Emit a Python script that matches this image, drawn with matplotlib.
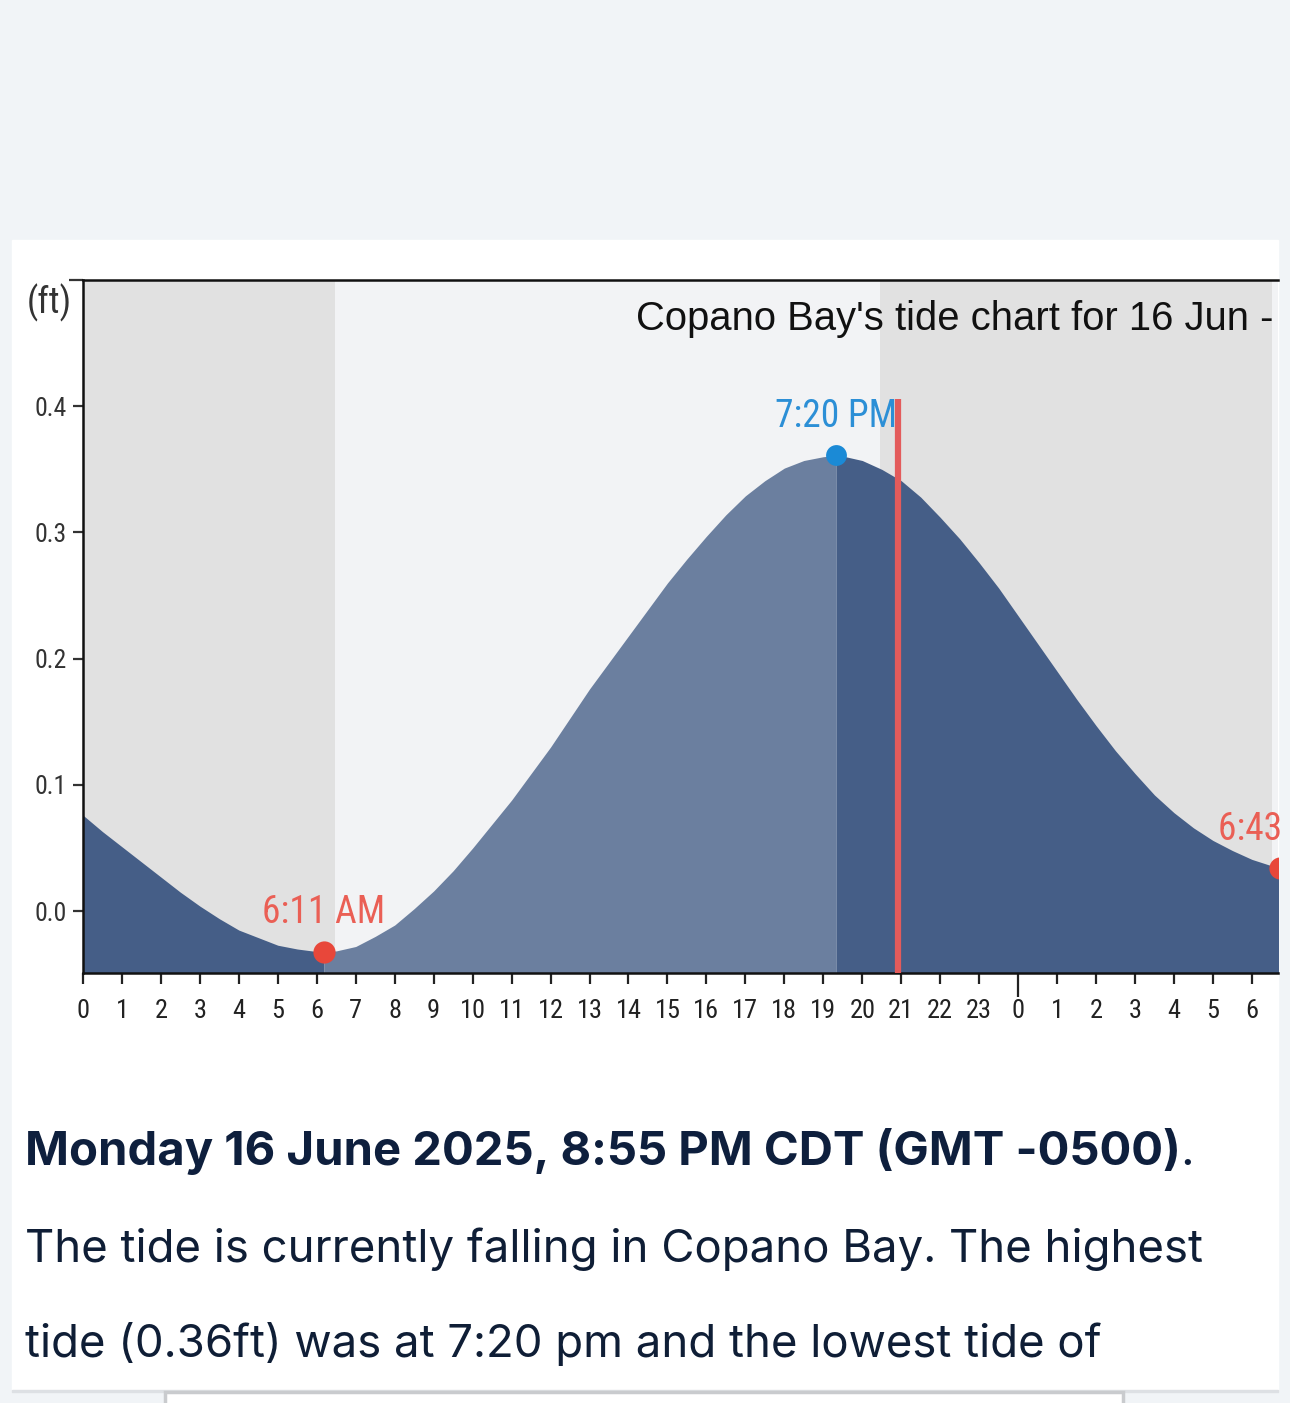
import matplotlib.pyplot as plt
from matplotlib import font_manager
from matplotlib.patches import Rectangle
import numpy as np

W, H = 1290, 1403

# tide heights (ft), hours from midnight 16 Jun
hours = [0, 0.5, 1, 1.5, 2, 2.5, 3, 3.5, 4, 4.5, 5, 5.5, 6, 6.183, 6.5, 7,
         7.5, 8, 8.5, 9, 9.5, 10, 10.5, 11, 11.5, 12, 12.5, 13, 13.5, 14,
         14.5, 15, 15.5, 16, 16.5, 17, 17.5, 18, 18.5, 19, 19.333, 19.5, 20,
         20.5, 21, 21.5, 22, 22.5, 23, 23.5, 24, 24.5, 25, 25.5, 26, 26.5,
         27, 27.5, 28, 28.5, 29, 29.5, 30, 30.5, 30.717]
heights = [0.076, 0.063, 0.051, 0.039, 0.027, 0.015, 0.004, -0.006, -0.015,
           -0.021, -0.027, -0.030, -0.032, -0.032, -0.0315, -0.028, -0.020,
           -0.011, 0.002, 0.016, 0.032, 0.050, 0.069, 0.088, 0.109, 0.130,
           0.153, 0.176, 0.197, 0.218, 0.239, 0.260, 0.279, 0.297, 0.314,
           0.329, 0.341, 0.351, 0.357, 0.360, 0.361, 0.3605, 0.357, 0.350,
           0.341, 0.328, 0.312, 0.295, 0.276, 0.256, 0.234, 0.212, 0.190,
           0.168, 0.147, 0.127, 0.109, 0.092, 0.078, 0.066, 0.056, 0.048,
           0.041, 0.036, 0.034]

low_times = [6.183, 30.717]
low_heights = [-0.032, 0.034]
low_labels = ['6:11 AM', '6:43 AM']
high_times = [19.333]
high_heights = [0.361]
high_labels = ['7:20 PM']

nights = [(0, 6.47), (20.46, 30.52)]
now_hour = 20.92

x_ticks = list(range(31))
x_labels = [str(h % 24) for h in x_ticks]
y_ticks = [0.0, 0.1, 0.2, 0.3, 0.4, 0.5]
y_labels = ['0.0', '0.1', '0.2', '0.3', '0.4', '']


def pick(names):
    have = {f.name for f in font_manager.fontManager.ttflist}
    for n in names:
        if n in have:
            return n
    return 'DejaVu Sans'


narrow = pick(['Liberation Sans Narrow', 'Roboto Condensed', 'Liberation Sans'])
arial = pick(['Liberation Sans', 'Arial'])
page = pick(['Inter', 'Roboto', 'DejaVu Sans'])


def fx(x):
    return x / W


def fy(y):
    return 1 - y / H


fig = plt.figure(figsize=(W / 100, H / 100), dpi=100)
fig.patch.set_facecolor('#f1f4f7')
fig.patches.append(Rectangle((fx(12), fy(1390)), fx(1278 - 12), (1390 - 240) / H,
                             transform=fig.transFigure, color='white', zorder=-3))
fig.patches.append(Rectangle((fx(12), fy(1392)), fx(1278 - 12), 2 / H,
                             transform=fig.transFigure, color='#dde0e4', zorder=-3))
fig.patches.append(Rectangle((fx(165), fy(1420)), fx(1123 - 165), 28 / H,
                             transform=fig.transFigure, facecolor='white',
                             edgecolor='#c9cbce', lw=2.5, zorder=-2))

ax = fig.add_axes([fx(83), fy(973), fx(1278 - 83), (973 - 280) / H])
ax.set_zorder(2)
ax.set_facecolor('#f2f3f5')
ax.set_xlim(0, 30.67)
ax.set_ylim(-0.049, 0.499)

for a, b in nights:
    ax.axvspan(a, b, color='#e1e1e1', lw=0, zorder=0)

t = np.array(hours)
h = np.array(heights)
bottom = -0.049
m1 = t <= low_times[0]
m2 = (t >= low_times[0]) & (t <= high_times[0])
m3 = t >= high_times[0]
ax.fill_between(t[m1], h[m1], bottom, color='#455e87', lw=0, zorder=1)
ax.fill_between(t[m2], h[m2], bottom, color='#6b7f9f', lw=0, zorder=1)
ax.fill_between(t[m3], h[m3], bottom, color='#455e87', lw=0, zorder=1)

ax.plot([now_hour, now_hour], [bottom, 0.406], color='#e35b5b', lw=4.5,
        solid_capstyle='butt', zorder=3)

ax.plot(low_times, low_heights, 'o', color='#e8473a', ms=16, mec='none', zorder=4)
ax.plot(high_times, high_heights, 'o', color='#1b8ad6', ms=15, mec='none', zorder=4)

for tt, hh, lab in zip(low_times, low_heights, low_labels):
    ax.text(tt, hh + 0.031, lab, ha='center', va='center', color='#ea5f55',
            fontsize=27, family=narrow, zorder=5)
for tt, hh, lab in zip(high_times, high_heights, high_labels):
    ax.text(tt, hh + 0.031, lab, ha='center', va='center', color='#2c8fd6',
            fontsize=27, family=narrow, zorder=5)

ax.text(14.2, 0.469, "Copano Bay's tide chart for 16 Jun -", ha='left',
        va='center', fontsize=28.8, family=arial, color='#111111', clip_on=True,
        zorder=5)

ax.spines['right'].set_visible(False)
for s in ['left', 'bottom', 'top']:
    ax.spines[s].set_linewidth(1.8)
    ax.spines[s].set_color('#111111')

ax.set_xticks(x_ticks)
ax.set_xticklabels(x_labels, family=narrow, fontsize=19, color='#222222')
ax.tick_params(axis='x', direction='out', length=8, width=1.6, pad=11,
               color='#222222')
ax.xaxis.get_major_ticks()[24].tick1line.set_markersize(17)

ax.set_yticks(y_ticks)
ax.set_yticklabels(y_labels, family=narrow, fontsize=18.5, color='#333333')
ax.tick_params(axis='y', direction='out', length=7, width=1.6, pad=5,
               color='#333333')
ax.yaxis.get_major_ticks()[5].tick1line.set_markersize(10)

fig.text(fx(49), fy(303), '(ft)', ha='center', va='center', fontsize=26,
         family=narrow, color='#333333')

head = fig.text(fx(25), fy(1165), 'Monday 16 June 2025, 8:55 PM CDT (GMT -0500)',
                ha='left', va='baseline', fontsize=34, weight='bold',
                family=page, color='#0e1f3d')
fig.canvas.draw()
bb = head.get_window_extent()
fig.text(bb.x1 / W, fy(1165), '.', ha='left', va='baseline', fontsize=34,
         family=page, color='#0e1f3d')

fig.text(fx(25), fy(1262), 'The tide is currently falling in Copano Bay. The highest',
         ha='left', va='baseline', fontsize=32.8, family=page, color='#0f1e36')
fig.text(fx(25), fy(1357), 'tide (0.36ft) was at 7:20 pm and the lowest tide of',
         ha='left', va='baseline', fontsize=32.8, family=page, color='#0f1e36')

fig.savefig('out.png', dpi=100, facecolor=fig.get_facecolor())
